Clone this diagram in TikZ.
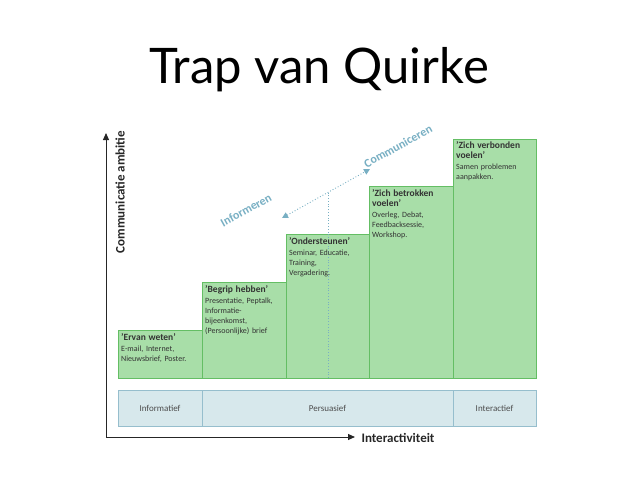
\documentclass[tikz,border=0pt]{standalone}
\usepackage{fontspec}
\setmainfont{Carlito}
\newfontfamily\titlefont{Lato}
\newcommand\stephd{\fontsize{9.5}{11.5}\selectfont\bfseries}
\usetikzlibrary{arrows.meta}
\begin{document}
\begin{tikzpicture}[x=1pt,y=-1pt,
  band/.style={line width=0.9pt, minimum height=36pt, inner sep=0pt, font=\fontsize{9}{11}\selectfont, text=black!70},
  lbl/.style={anchor=north west, align=left, text width=80pt, inner sep=0pt, font=\fontsize{8}{10}\selectfont, text=black!80},
  axis/.style={line width=1pt, black!85, -{Triangle[length=7pt,width=6pt]}}]
\useasboundingbox (0,0) rectangle (638,479);
\definecolor{stepg}{RGB}{168,222,168}
\definecolor{stepd}{RGB}{100,190,100}
\definecolor{bandf}{RGB}{215,232,236}
\definecolor{bandd}{RGB}{150,190,205}
\definecolor{blu}{RGB}{120,175,195}
\node[font=\titlefont\fontsize{49}{54}\selectfont] (title) at (319,70) {Trap van Quirke};
\foreach \i/\xa/\xb/\yt in {1/118/202/330,2/202/286/282,3/286/369/234,4/369/453/186,5/453/536/139}
  \filldraw[fill=stepg, draw=stepd, line width=0.9pt] (\xa,\yt) rectangle (\xb,378);
\coordinate (vb) at (328,378); \coordinate (vt) at (328,193);
\draw[dotted, line width=0.8pt, blu] (vb) -- (vt);
\coordinate (ia) at (282,218); \coordinate (ca) at (370,169);
\draw[dotted, line width=0.9pt, blu, {Triangle[length=6pt,width=6pt]}-{Triangle[length=6pt,width=6pt]}] (ia) -- (ca);
\node[rotate=29, text=blu, font=\fontsize{12}{14}\selectfont\bfseries] (inf) at (246,210) {Informeren};
\node[rotate=29, text=blu, font=\fontsize{12}{14}\selectfont\bfseries] (com) at (398,146) {Communiceren};
\node[lbl] (s1) at (121,333) {{\stephd 'Ervan weten'}\\[1pt]E-mail, Internet,\\Nieuwsbrief, Poster.};
\node[lbl] (s2) at (205,285) {{\stephd 'Begrip hebben'}\\[1pt]Presentatie, Peptalk,\\Informatie-\\bijeenkomst,\\(Persoonlijke) brief};
\node[lbl] (s3) at (289,237) {{\stephd 'Ondersteunen'}\\[1pt]Seminar, Educatie,\\Training,\\Vergadering.};
\node[lbl] (s4) at (372,189) {{\stephd 'Zich betrokken}\\{\stephd voelen'}\\[1pt]Overleg, Debat,\\Feedbacksessie,\\Workshop.};
\node[lbl] (s5) at (456,141) {{\stephd 'Zich verbonden}\\{\stephd voelen'}\\[1pt]Samen problemen\\aanpakken.};
\node[band, fill=bandf, draw=bandd, minimum width=84pt] (b1) at (160,408) {Informatief};
\node[band, fill=bandf, draw=bandd, minimum width=251pt] (b2) at (327.5,408) {Persuasief};
\node[band, fill=bandf, draw=bandd, minimum width=83pt] (b3) at (494.5,408) {Interactief};
\coordinate (o) at (106,437); \coordinate (yt) at (106,133); \coordinate (xe) at (355,437);
\draw[axis] (o) -- (yt);
\draw[axis] (o) -- (xe);
\node[anchor=west, font=\fontsize{13}{15}\selectfont\bfseries, text=black!85] (xl) at (358,438) {Interactiviteit};
\node[rotate=90, font=\fontsize{13}{15}\selectfont\bfseries, text=black!85] (yl) at (120,192) {Communicatie ambitie};
\end{tikzpicture}
\end{document}
